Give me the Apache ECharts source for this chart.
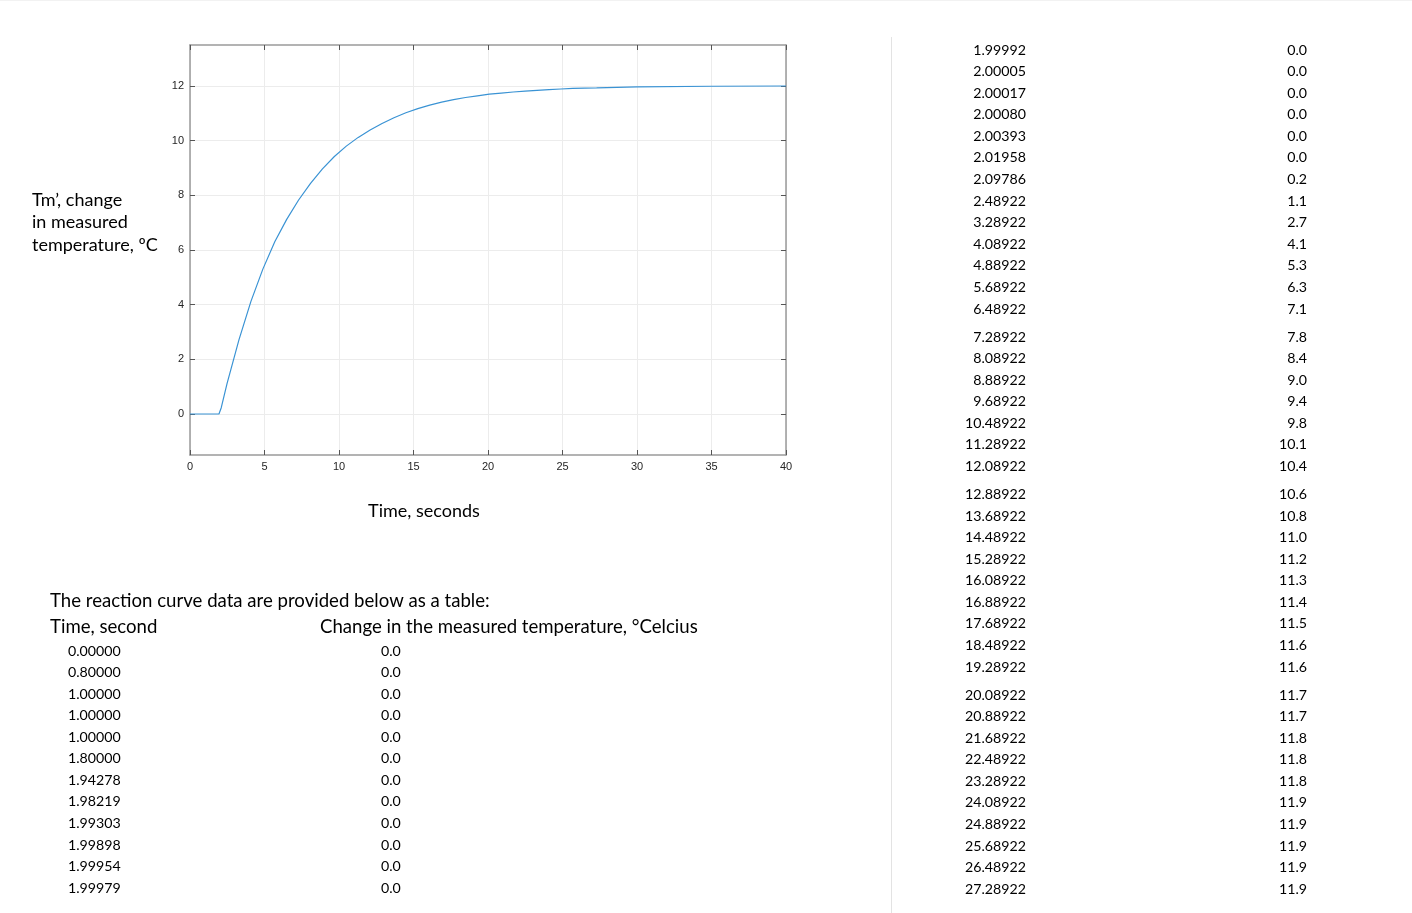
<!DOCTYPE html>
<html>
<head>
<meta charset="utf-8">
<script src="https://cdn.jsdelivr.net/npm/echarts@6/dist/echarts.min.js"></script>
<style>
html,body{margin:0;padding:0;background:#fff;}
#chart{width:1412px;height:913px;}
</style>
</head>
<body>
<div id="chart"></div>
<script>
// ---- data ----
// table printed in the figure (left column block and right column block)
var tableTimesLeft = [0.00000, 0.80000, 1.00000, 1.00000, 1.00000, 1.80000, 1.94278, 1.98219, 1.99303, 1.99898, 1.99954, 1.99979];
var tableTempsLeft = [0.0, 0.0, 0.0, 0.0, 0.0, 0.0, 0.0, 0.0, 0.0, 0.0, 0.0, 0.0];
var tableTimesRight = [1.99992, 2.00005, 2.00017, 2.00080, 2.00393, 2.01958, 2.09786, 2.48922, 3.28922, 4.08922, 4.88922, 5.68922, 6.48922,
  7.28922, 8.08922, 8.88922, 9.68922, 10.48922, 11.28922, 12.08922,
  12.88922, 13.68922, 14.48922, 15.28922, 16.08922, 16.88922, 17.68922, 18.48922, 19.28922,
  20.08922, 20.88922, 21.68922, 22.48922, 23.28922, 24.08922, 24.88922, 25.68922, 26.48922, 27.28922];
var tableTempsRight = [0.0, 0.0, 0.0, 0.0, 0.0, 0.0, 0.2, 1.1, 2.7, 4.1, 5.3, 6.3, 7.1,
  7.8, 8.4, 9.0, 9.4, 9.8, 10.1, 10.4,
  10.6, 10.8, 11.0, 11.2, 11.3, 11.4, 11.5, 11.6, 11.6,
  11.7, 11.7, 11.8, 11.8, 11.8, 11.9, 11.9, 11.9, 11.9, 11.9];
// plotted curve at the table times (finer than the 0.1 rounding of the table)
var curveTempsRight = [0.0, 0.0, 0.0, 0.0, 0.01, 0.05, 0.23, 1.12, 2.72, 4.12, 5.30, 6.30, 7.12,
  7.83, 8.44, 8.97, 9.42, 9.80, 10.12, 10.39,
  10.63, 10.84, 11.02, 11.17, 11.30, 11.41, 11.50, 11.58, 11.64,
  11.70, 11.74, 11.78, 11.81, 11.84, 11.87, 11.89, 11.91, 11.92, 11.93];
// tail of the curve beyond the table
var plotTailTimes = [30, 35, 40];
var plotTailTemps = [11.97, 11.99, 12.0];

var xTicks = [0, 5, 10, 15, 20, 25, 30, 35, 40];
var yTicks = [0, 2, 4, 6, 8, 10, 12];

var yTitleLines = ['Tm\u2019, change', 'in measured', 'temperature, \u00baC'];
var xTitle = 'Time, seconds';
var introText = 'The reaction curve data are provided below as a table:';
var headTime = 'Time, second';
var headTemp = 'Change in the measured temperature, \u00b0Celcius';

// ---- build series ----
var seriesData = [];
function pushPairs(ts, vs) { for (var i = 0; i < ts.length; i++) seriesData.push([ts[i], vs[i]]); }
pushPairs(tableTimesLeft, tableTempsLeft);
pushPairs(tableTimesRight, curveTempsRight);
pushPairs(plotTailTimes, plotTailTemps);

// ---- text graphics ----
var TXT = '#000';
var titleFont = '18px Lato';
var mainFont = '18.6px Lato';
var numFont = '14.2px Lato';
var graphics = [];
function txt(x, y, s, font, align) {
  graphics.push({ type: 'text', x: x, y: y + 1, silent: true,
    style: { text: s, font: font, fill: TXT, align: align || 'left', verticalAlign: 'middle' } });
}
// y axis title
yTitleLines.forEach(function (s, i) { txt(32, 199 + i * 22.5, s, titleFont); });
// x axis title
txt(424, 510, xTitle, titleFont, 'center');
// intro & headers
txt(50, 600, introText, mainFont);
txt(50, 626, headTime, mainFont);
txt(320, 626, headTemp, mainFont);
// left table
tableTimesLeft.forEach(function (t, i) {
  var y = 650 + i * 21.55;
  txt(68, y, t.toFixed(5), numFont);
  txt(381, y, tableTempsLeft[i].toFixed(1), numFont);
});
// right table (page breaks add a small extra gap)
var breaksAfter = [12, 19, 28];
var yy = 49;
tableTimesRight.forEach(function (t, i) {
  txt(1026, yy, t.toFixed(5), numFont, 'right');
  txt(1307, yy, tableTempsRight[i].toFixed(1), numFont, 'right');
  yy += 21.58 + (breaksAfter.indexOf(i) >= 0 ? 6.4 : 0);
});
// divider and faint top rule
graphics.push({ type: 'line', silent: true, shape: { x1: 891.5, y1: 37, x2: 891.5, y2: 913 }, style: { stroke: '#e3e3e3', lineWidth: 1 } });
graphics.push({ type: 'line', silent: true, shape: { x1: 0, y1: 0.5, x2: 1412, y2: 0.5 }, style: { stroke: '#f2f2f2', lineWidth: 1 } });

var axisLineStyle = { color: '#9a9a9a', width: 1.5 };
var tickStyle = { color: '#555', width: 1 };
var labelStyle = { color: '#262626', fontSize: 11, fontFamily: 'Liberation Sans' };

var chart = echarts.init(document.getElementById('chart'), null, { renderer: 'canvas' });
chart.setOption({
  animation: false,
  backgroundColor: '#fff',
  grid: { left: 190, top: 45, width: 596, height: 410, containLabel: false, outerBoundsMode: 'none' },
  xAxis: [
    { type: 'value', position: 'bottom', min: 0, max: 40, interval: 5,
      axisLine: { show: true, onZero: false, lineStyle: axisLineStyle },
      axisTick: { show: true, inside: true, length: 5, lineStyle: tickStyle, customValues: xTicks },
      axisLabel: Object.assign({ margin: 6, customValues: xTicks }, labelStyle),
      splitLine: { show: true, lineStyle: { color: '#ececec', width: 1 } } },
    { type: 'value', position: 'top', min: 0, max: 40, interval: 5,
      axisLine: { show: true, onZero: false, lineStyle: axisLineStyle },
      axisTick: { show: true, inside: true, length: 5, lineStyle: tickStyle, customValues: xTicks },
      axisLabel: { show: false }, splitLine: { show: false } }
  ],
  yAxis: [
    { type: 'value', position: 'left', min: -1.5, max: 13.5,
      axisLine: { show: true, onZero: false, lineStyle: axisLineStyle },
      axisTick: { show: true, inside: true, length: 5, lineStyle: tickStyle, customValues: yTicks },
      axisLabel: Object.assign({ margin: 6, customValues: yTicks }, labelStyle),
      splitLine: { show: true, lineStyle: { color: '#ececec', width: 1 } } },
    { type: 'value', position: 'right', min: -1.5, max: 13.5,
      axisLine: { show: true, onZero: false, lineStyle: axisLineStyle },
      axisTick: { show: true, inside: true, length: 5, lineStyle: tickStyle, customValues: yTicks },
      axisLabel: { show: false }, splitLine: { show: false } }
  ],
  series: [{
    type: 'line', xAxisIndex: 0, yAxisIndex: 0, data: seriesData,
    showSymbol: false, symbol: 'none', smooth: false,
    lineStyle: { color: '#3a93d4', width: 1.2 }
  }],
  graphic: graphics
});
</script>
</body>
</html>
